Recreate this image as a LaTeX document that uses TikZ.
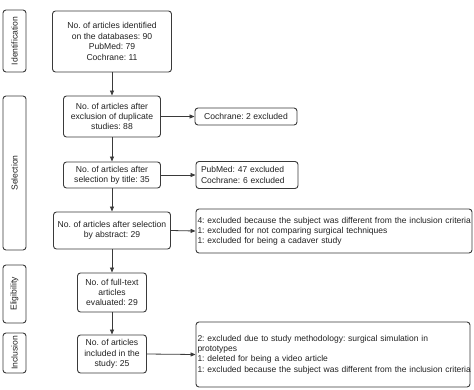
\documentclass[tikz,border=0pt]{standalone}
\usepackage{fontspec}
\setmainfont{Liberation Sans}
\usetikzlibrary{arrows.meta}
\definecolor{linec}{HTML}{3A3A3A}
\definecolor{txtc}{HTML}{222222}
\frenchspacing
\begin{document}
\begin{tikzpicture}[x=1pt,y=-1pt,
  box/.style={draw=linec, line width=0.9pt, rounded corners=3pt, fill=white,
    align=center, font=\fontsize{8.6}{10.4}\selectfont, text=txtc, inner sep=1pt},
  lbox/.style={box, align=left, inner xsep=1.5pt, font=\fontsize{8.5}{10.2}\selectfont},
  stage/.style={box, rotate=90},
  arr/.style={draw=linec, line width=0.8pt, -{Triangle[length=5pt,width=4pt]}}]
\useasboundingbox (0,0) rectangle (474,389);
% stage labels
\node[stage, minimum width=62pt, minimum height=23pt] (s1) at (14.5,41) {Identification};
\node[stage, minimum width=154pt, minimum height=23pt] (s2) at (14.5,173) {Selection};
\node[stage, minimum width=58pt, minimum height=23pt] (s3) at (14.5,294) {Eligibility};
\node[stage, minimum width=40pt, minimum height=23pt] (s4) at (14.5,353) {Inclusion};
% main boxes
\node[box, minimum width=119pt, minimum height=61pt] (b1) at (112,41.5)
  {No. of articles identified\\on the databases: 90\\PubMed: 79\\Cochrane: 11};
\node[box, minimum width=97pt, minimum height=41pt] (b2) at (112,116.5)
  {No. of articles after\\exclusion of duplicate\\studies: 88};
\node[box, minimum width=97pt, minimum height=26pt] (b3) at (112,175)
  {No. of articles after\\selection by title: 35};
\node[box, minimum width=117pt, minimum height=37pt] (b4) at (112,230.5)
  {No. of articles after selection\\by abstract: 29};
\node[box, minimum width=69pt, minimum height=39pt] (b5) at (112,292.5)
  {No. of full-text\\articles\\evaluated: 29};
\node[box, minimum width=69pt, minimum height=38pt] (b6) at (112,354)
  {No. of articles\\included in the\\study: 25};
% right boxes
\node[box, minimum width=102pt, minimum height=17pt] (r1) at (246,116.5)
  {Cochrane: 2 excluded};
\node[lbox, minimum width=102pt, minimum height=27pt, inner xsep=5pt, text width=92pt] (r2) at (247,175)
  {PubMed: 47 excluded\\Cochrane: 6 excluded};
\node[lbox, minimum width=276pt, minimum height=44pt, text width=273pt] (r3) at (334,231)
  {\mbox{4: excluded because the subject was different from the inclusion criteria}\\1: excluded for not comparing surgical techniques\\1: excluded for being a cadaver study};
\node[lbox, minimum width=274pt, minimum height=65pt, text width=271pt] (r4) at (333,354.5)
  {2: excluded due to study methodology: surgical simulation in\\prototypes\\1: deleted for being a video article\\\mbox{1: excluded because the subject was different from the inclusion criteria}};
% connectors
\draw[arr] (b1.south) -- (b2.north);
\draw[arr] (b2.south) -- (b3.north);
\draw[arr] (b3.south) -- (b4.north);
\draw[arr] (b4.south) -- (b5.north);
\draw[arr] (b5.south) -- (b6.north);
\draw[arr] (b2.east) -- (r1.west);
\draw[arr] (b3.east) -- (r2.west);
\draw[arr] (b4.east) -- (r3.west);
\draw[arr] (b6.east) -- (r4.west);
\end{tikzpicture}
\end{document}
